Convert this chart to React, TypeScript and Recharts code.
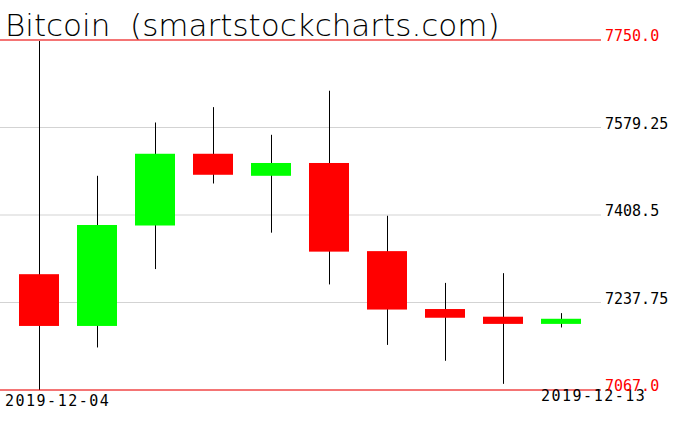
import { ComposedChart, Bar, XAxis, YAxis, CartesianGrid, ReferenceLine } from 'recharts';

const dates = [
  '2019-12-04', '2019-12-05', '2019-12-06', '2019-12-07', '2019-12-08',
  '2019-12-09', '2019-12-10', '2019-12-11', '2019-12-12', '2019-12-13',
];
const openPrices = [7293, 7192, 7388, 7528, 7485, 7510, 7338, 7225, 7210, 7196];
const closePrices = [7192, 7389, 7528, 7487, 7510, 7337, 7224, 7208, 7196, 7206];
const highPrices = [7748, 7485, 7589, 7619, 7565, 7651, 7407, 7276, 7295, 7217];
const lowPrices = [7067, 7150, 7303, 7470, 7374, 7273, 7155, 7124, 7079, 7189];

const yTicks = [7067, 7237.75, 7408.5, 7579.25, 7750];
const yTickLabels = ['7067.0', '7237.75', '7408.5', '7579.25', '7750.0'];
const xTickLabels = ['2019-12-04', '2019-12-13'];

const data = dates.map((date, i) => ({
  date,
  open: openPrices[i],
  close: closePrices[i],
  high: highPrices[i],
  low: lowPrices[i],
  range: [lowPrices[i], highPrices[i]],
}));

const TICK_FONT = "'DejaVu Sans Mono', monospace";

// wick + body drawn from the low/high bar box
function Candle(props: any) {
  const { x, y, width, height, payload } = props;
  const top = Math.min(y, y + height);
  const h = Math.abs(height);
  const span = payload.high - payload.low || 1;
  const k = h / span;
  const up = payload.close >= payload.open;
  const bodyTop = top + (payload.high - Math.max(payload.open, payload.close)) * k;
  const bodyBottom = top + (payload.high - Math.min(payload.open, payload.close)) * k;
  const cx = Math.round(x + width / 2) + 0.5;
  return (
    <g>
      <line x1={cx} x2={cx} y1={top} y2={top + h} stroke="#000" strokeWidth={1} />
      <rect
        x={x}
        y={bodyTop}
        width={width}
        height={Math.max(bodyBottom - bodyTop, 1)}
        fill={up ? '#00ff00' : '#ff0000'}
      />
    </g>
  );
}

function YTick(props: any) {
  const { x, y, payload } = props;
  const i = yTicks.indexOf(payload.value);
  const red = i === 0 || i === yTicks.length - 1;
  return (
    <text x={x - 4} y={y + 1} fill={red ? '#ff0000' : '#000'} fontSize={15} fontFamily={TICK_FONT} textAnchor="start">
      {yTickLabels[i]}
    </text>
  );
}

function XTick(props: any) {
  const { x, y, payload } = props;
  const first = payload.value === dates[0];
  return (
    <text
      x={first ? x - 34 : x - 20}
      y={first ? y + 8 : y + 3}
      fill="#000"
      fontSize={15}
      fontFamily={TICK_FONT}
      letterSpacing={1.5}
      textAnchor="start"
    >
      {first ? xTickLabels[0] : xTickLabels[1]}
    </text>
  );
}

export default function App() {
  return (
    <div style={{ position: 'fixed', left: 0, top: 0, width: 676, height: 431, background: '#fff' }}>
      <div
        style={{
          position: 'absolute',
          left: 5,
          top: 7,
          fontFamily: "'DejaVu Sans', sans-serif",
          fontWeight: 200,
          fontSize: 31,
          lineHeight: '36px',
          letterSpacing: 0,
          color: '#000',
          whiteSpace: 'pre',
        }}
      >
        Bitcoin  (smartstockcharts.com)
      </div>
      <ComposedChart
        width={676}
        height={431}
        data={data}
        margin={{ top: 40, right: 0, bottom: 0, left: 0 }}
      >
        <CartesianGrid horizontal vertical={false} stroke="#d3d3d3" />
        <XAxis
          dataKey="date"
          height={41}
          padding={{ left: 10, right: 11 }}
          axisLine={false}
          tickLine={false}
          ticks={[dates[0], dates[dates.length - 1]]}
          interval={0}
          tick={<XTick />}
        />
        <YAxis
          orientation="right"
          width={75}
          domain={[7067, 7750]}
          ticks={yTicks}
          axisLine={false}
          tickLine={false}
          tick={<YTick />}
        />
        <ReferenceLine y={7750} stroke="#ff0000" strokeWidth={1} />
        <ReferenceLine y={7067} stroke="#ff0000" strokeWidth={1} />
        <Bar dataKey="range" barSize={40} shape={<Candle />} isAnimationActive={false} />
      </ComposedChart>
    </div>
  );
}
